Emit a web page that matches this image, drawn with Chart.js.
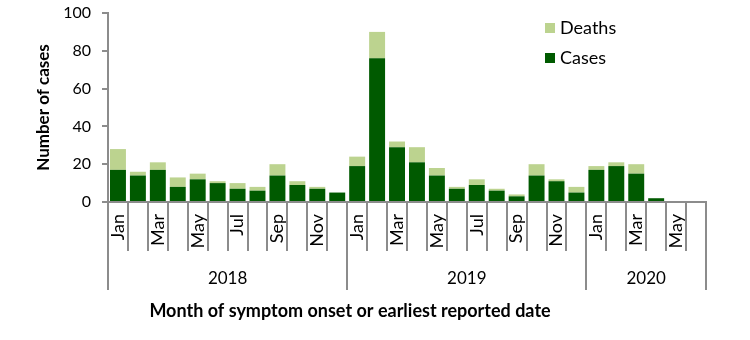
<!DOCTYPE html>
<html>
<head>
<meta charset="utf-8">
<script src="https://cdn.jsdelivr.net/npm/chart.js@4.4.1/dist/chart.umd.min.js"></script>
<style>
  html, body { margin: 0; padding: 0; background: #fff; }
  #wrap { width: 750px; height: 340px; }
</style>
</head>
<body>
<div id="wrap"><canvas id="casesChart" width="750" height="340"></canvas></div>
<script>
// month categories, Jan 2018 .. Jun 2020
const monthNames = ['Jan', 'Feb', 'Mar', 'Apr', 'May', 'Jun', 'Jul', 'Aug', 'Sep', 'Oct', 'Nov', 'Dec'];
const years = ['2018', '2019', '2020'];
const monthsPerYear = [12, 12, 6];
const months = years.flatMap((y, i) => monthNames.slice(0, monthsPerYear[i]));

const cases = [17, 14, 17, 8, 12, 10, 7, 6, 14, 9, 7, 5,
               19, 76, 29, 21, 14, 7, 9, 6, 3, 14, 11, 5,
               17, 19, 15, 2, 0, 0];
const deaths = [11, 2, 4, 5, 3, 1, 3, 2, 6, 2, 1, 0,
                5, 14, 3, 8, 4, 1, 3, 1, 1, 6, 1, 3,
                2, 2, 5, 0, 0, 0];

const yTicks = [0, 20, 40, 60, 80, 100];

const AXIS_GREY = '#8c8c8c';
const FONT = 'Lato, "Open Sans", sans-serif';

// draws the year row, category separators, bottom title and the legend
const extrasPlugin = {
    id: 'extras',
    afterDraw(chart) {
        const { ctx, scales: { x } } = chart;
        const half = (x.getPixelForValue(1) - x.getPixelForValue(0)) / 2;
        const axisY = x.top;
        ctx.save();
        ctx.strokeStyle = AXIS_GREY;
        ctx.lineWidth = 2;

        // separators between months
        let yearStarts = [0];
        monthsPerYear.reduce((acc, n) => { yearStarts.push(acc + n); return acc + n; }, 0);
        for (let i = 0; i <= months.length; i++) {
            const px = Math.round(x.getPixelForValue(i) - half);
            const isYear = yearStarts.includes(i);
            ctx.beginPath();
            ctx.moveTo(px, axisY);
            ctx.lineTo(px, isYear ? 290 : 251);
            ctx.stroke();
        }

        // year labels
        ctx.fillStyle = '#000';
        ctx.font = '17px ' + FONT;
        ctx.textAlign = 'center';
        ctx.textBaseline = 'middle';
        years.forEach((yr, i) => {
            const a = x.getPixelForValue(yearStarts[i]) - half;
            const b = x.getPixelForValue(yearStarts[i + 1] - 1) + half;
            ctx.fillText(yr, (a + b) / 2, 279);
        });

        // axis title
        ctx.font = 'bold 18px ' + FONT;
        ctx.fillText('Month of symptom onset or earliest reported date', 350, 311);

        // legend (reversed order, inside plot)
        ctx.font = '18px ' + FONT;
        ctx.textAlign = 'left';
        const items = chart.data.datasets.slice().reverse();
        items.forEach((ds, i) => {
            const ly = 28 + i * 30;
            ctx.fillStyle = ds.backgroundColor;
            ctx.fillRect(545, ly - 5, 10, 10);
            ctx.fillStyle = '#000';
            ctx.fillText(ds.label, 560, ly);
        });
        ctx.restore();
    }
};

const ctx = document.getElementById('casesChart').getContext('2d');
new Chart(ctx, {
    type: 'bar',
    data: {
        labels: months,
        datasets: [
            { label: 'Cases', data: cases, backgroundColor: '#005a00' },
            { label: 'Deaths', data: deaths, backgroundColor: '#bcd38f' }
        ]
    },
    options: {
        responsive: false,
        animation: false,
        devicePixelRatio: 1,
        layout: { padding: { top: 13, right: 44, left: 0, bottom: 0 } },
        datasets: { bar: { barPercentage: 0.8, categoryPercentage: 1.0 } },
        plugins: {
            legend: { display: false },
            tooltip: { enabled: false }
        },
        scales: {
            x: {
                stacked: true,
                grid: { display: false, drawTicks: false },
                border: { display: true, color: AXIS_GREY, width: 2 },
                ticks: {
                    autoSkip: false,
                    minRotation: 90,
                    maxRotation: 90,
                    padding: 12,
                    color: '#000',
                    font: { family: FONT, size: 18 },
                    callback: (v, i) => (i % 2 === 0 ? months[i] : '')
                },
                afterFit: (scale) => { scale.height = 138; }
            },
            y: {
                stacked: true,
                min: 0,
                max: 100,
                afterBuildTicks: (scale) => { scale.ticks = yTicks.map(v => ({ value: v })); },
                grid: { display: true, drawOnChartArea: false, drawTicks: true, tickLength: 6, color: AXIS_GREY, lineWidth: 2 },
                border: { display: true, color: AXIS_GREY, width: 2 },
                ticks: { padding: 11, color: '#000', font: { family: FONT, size: 16 } },
                title: {
                    display: true,
                    text: 'Number of cases',
                    color: '#000',
                    font: { family: FONT, size: 17, weight: 'bold' },
                    padding: { top: 33, bottom: 0 }
                },
                afterFit: (scale) => {
                    scale.width = 108;
                    scale.paddingTop = 0;
                    scale.paddingBottom = 0;
                }
            }
        }
    },
    plugins: [extrasPlugin]
});
</script>
</body>
</html>
